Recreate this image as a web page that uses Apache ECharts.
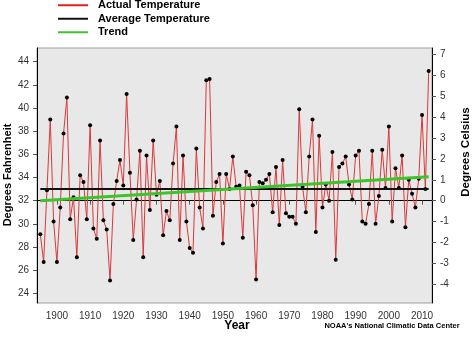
<!DOCTYPE html>
<html>
<head>
<meta charset="utf-8">
<script src="https://cdn.jsdelivr.net/npm/echarts@6/dist/echarts.min.js"></script>
<style>
html,body{margin:0;padding:0;background:#fff;}
#chart{width:474px;height:338px;}
</style>
</head>
<body>
<div id="chart"></div>
<script>
// ---- data ----
var years = [];
for (var yy = 1895; yy <= 2012; yy++) years.push(yy);
var actualTemps = [
  29.1, 26.7, 32.9, 39.0, 30.2,                                   // 1895-1899
  26.7, 31.4, 37.8, 40.9, 30.4, 32.3, 27.1, 34.2, 33.6, 30.4,     // 1900s
  38.5, 29.6, 28.7, 37.2, 30.3, 29.5, 25.1, 31.7, 33.7, 35.5,     // 1910s
  33.3, 41.2, 34.4, 28.6, 32.1, 36.3, 27.1, 35.9, 31.2, 37.2,     // 1920s
  32.5, 33.7, 29.0, 31.1, 30.3, 35.2, 38.4, 28.6, 35.9, 30.2,     // 1930s
  27.9, 27.5, 36.5, 31.4, 29.6, 42.4, 42.5, 30.7, 33.6, 34.3,     // 1940s
  28.3, 34.3, 33.0, 35.8, 33.2, 33.3, 28.8, 34.5, 34.2, 31.6,     // 1950s
  25.2, 33.6, 33.5, 33.8, 34.3, 31.0, 34.9, 29.9, 35.5, 30.9,     // 1960s
  30.6, 30.6, 30.0, 39.9, 33.2, 31.0, 35.8, 39.0, 29.3, 37.6,     // 1970s
  31.4, 33.4, 32.0, 36.2, 26.9, 34.9, 35.2, 35.8, 33.4, 32.1,     // 1980s
  35.9, 36.3, 30.2, 30.0, 31.7, 36.3, 30.0, 32.4, 36.4, 33.1,     // 1990s
  38.4, 30.2, 34.8, 33.1, 35.9, 29.7, 33.8, 32.6, 31.4, 33.9,     // 2000s
  39.4, 33.0, 43.2                                                 // 2010-2012
];
var averageYears = [1895, 2012];
var averageValues = [33.0, 33.0];
var trendYears = [1895, 2012];
var trendValues = [32.0, 34.07];
var fahrenheitTicks = [24, 26, 28, 30, 32, 34, 36, 38, 40, 42, 44];
var celsiusTicks = [-4, -3, -2, -1, 0, 1, 2, 3, 4, 5, 6, 7];
var yearTicks = [1900, 1910, 1920, 1930, 1940, 1950, 1960, 1970, 1980, 1990, 2000, 2010];

// ---- chart ----
var fMin = 23.16, fMax = 45.18;
var cMin = (fMin - 32) / 1.8, cMax = (fMax - 32) / 1.8;
function pairs(xs, vs) { return xs.map(function (x, i) { return [x, vs[i]]; }); }

var FONT = 'Liberation Sans, Arial, Helvetica, sans-serif';
var chart = echarts.init(document.getElementById('chart'), null, {renderer: 'canvas'});
chart.setOption({
  animation: false,
  backgroundColor: '#ffffff',
  textStyle: {fontFamily: FONT},
  grid: {left: 37, right: 42, top: 48, bottom: 35, show: true,
         backgroundColor: '#e8e8e8', borderColor: '#a0a0a0', borderWidth: 1},
  legend: {
    orient: 'vertical', left: 58, top: -1, padding: 0, itemWidth: 30, itemHeight: 2, itemGap: 1,
    icon: 'rect',
    textStyle: {fontFamily: FONT, fontSize: 11, fontWeight: 'bold', color: '#000', lineHeight: 12.5, padding: [0,0,0,5]},
    data: [
      {name: 'Actual Temperature', itemStyle: {color: '#e02020'}},
      {name: 'Average Temperature', itemStyle: {color: '#111'}},
      {name: 'Trend', itemStyle: {color: '#3cc42a'}}
    ]
  },
  xAxis: {
    type: 'value', min: 1894, max: 2013,
    axisLine: {show: true, lineStyle: {color: '#000', width: 1}},
    axisTick: {show: true, length: 4, customValues: yearTicks, lineStyle: {color: '#555'}},
    axisLabel: {customValues: yearTicks, fontSize: 10, color: '#333', margin: 8, fontFamily: FONT,
                formatter: function (v) { return String(Math.round(v)); }},
    splitLine: {show: false}
  },
  yAxis: [
    {
      type: 'value', position: 'left', min: fMin, max: fMax,
      axisLine: {show: true, lineStyle: {color: '#000', width: 1}},
      axisTick: {show: true, length: 4, customValues: fahrenheitTicks, lineStyle: {color: '#555'}},
      axisLabel: {customValues: fahrenheitTicks, fontSize: 10, color: '#333', margin: 8, fontFamily: FONT},
      splitLine: {show: false}
    },
    {
      type: 'value', position: 'right', min: cMin, max: cMax,
      axisLine: {show: true, lineStyle: {color: '#000', width: 1}},
      axisTick: {show: true, length: 4, customValues: celsiusTicks, lineStyle: {color: '#555'}},
      axisLabel: {customValues: celsiusTicks, fontSize: 10, color: '#333', margin: 8, fontFamily: FONT},
      splitLine: {show: false}
    }
  ],
  series: [
    {
      name: 'Actual Temperature', type: 'line', data: pairs(years, actualTemps),
      symbol: 'circle', symbolSize: 4, z: 2,
      lineStyle: {color: '#d83a3a', width: 1},
      itemStyle: {color: '#000'}
    },
    {
      name: 'Average Temperature', type: 'line', data: pairs(averageYears, averageValues),
      symbol: 'none', z: 3, lineStyle: {color: '#111', width: 2}, itemStyle: {color: '#111'}
    },
    {
      name: 'Trend', type: 'line', data: pairs(trendYears, trendValues),
      symbol: 'none', z: 4, lineStyle: {color: '#3cc42a', width: 3}, itemStyle: {color: '#3cc42a'}
    }
  ],
  graphic: [
    {type: 'text', x: 8, y: 175, rotation: Math.PI / 2,
     style: {text: 'Degrees Fahrenheit', font: 'bold 11px ' + FONT, fill: '#000', textAlign: 'center', textVerticalAlign: 'middle'}},
    {type: 'text', x: 466, y: 152, rotation: Math.PI / 2,
     style: {text: 'Degrees Celsius', font: 'bold 11.5px ' + FONT, fill: '#000', textAlign: 'center', textVerticalAlign: 'middle'}},
    {type: 'text', x: 237, y: 326,
     style: {text: 'Year', font: 'bold 12px ' + FONT, fill: '#000', textAlign: 'center', textVerticalAlign: 'middle'}},
    {type: 'text', x: 392, y: 326,
     style: {text: "NOAA's National Climatic Data Center", font: 'bold 7.5px ' + FONT, fill: '#000', textAlign: 'center', textVerticalAlign: 'middle'}}
  ]
});
</script>
</body>
</html>
